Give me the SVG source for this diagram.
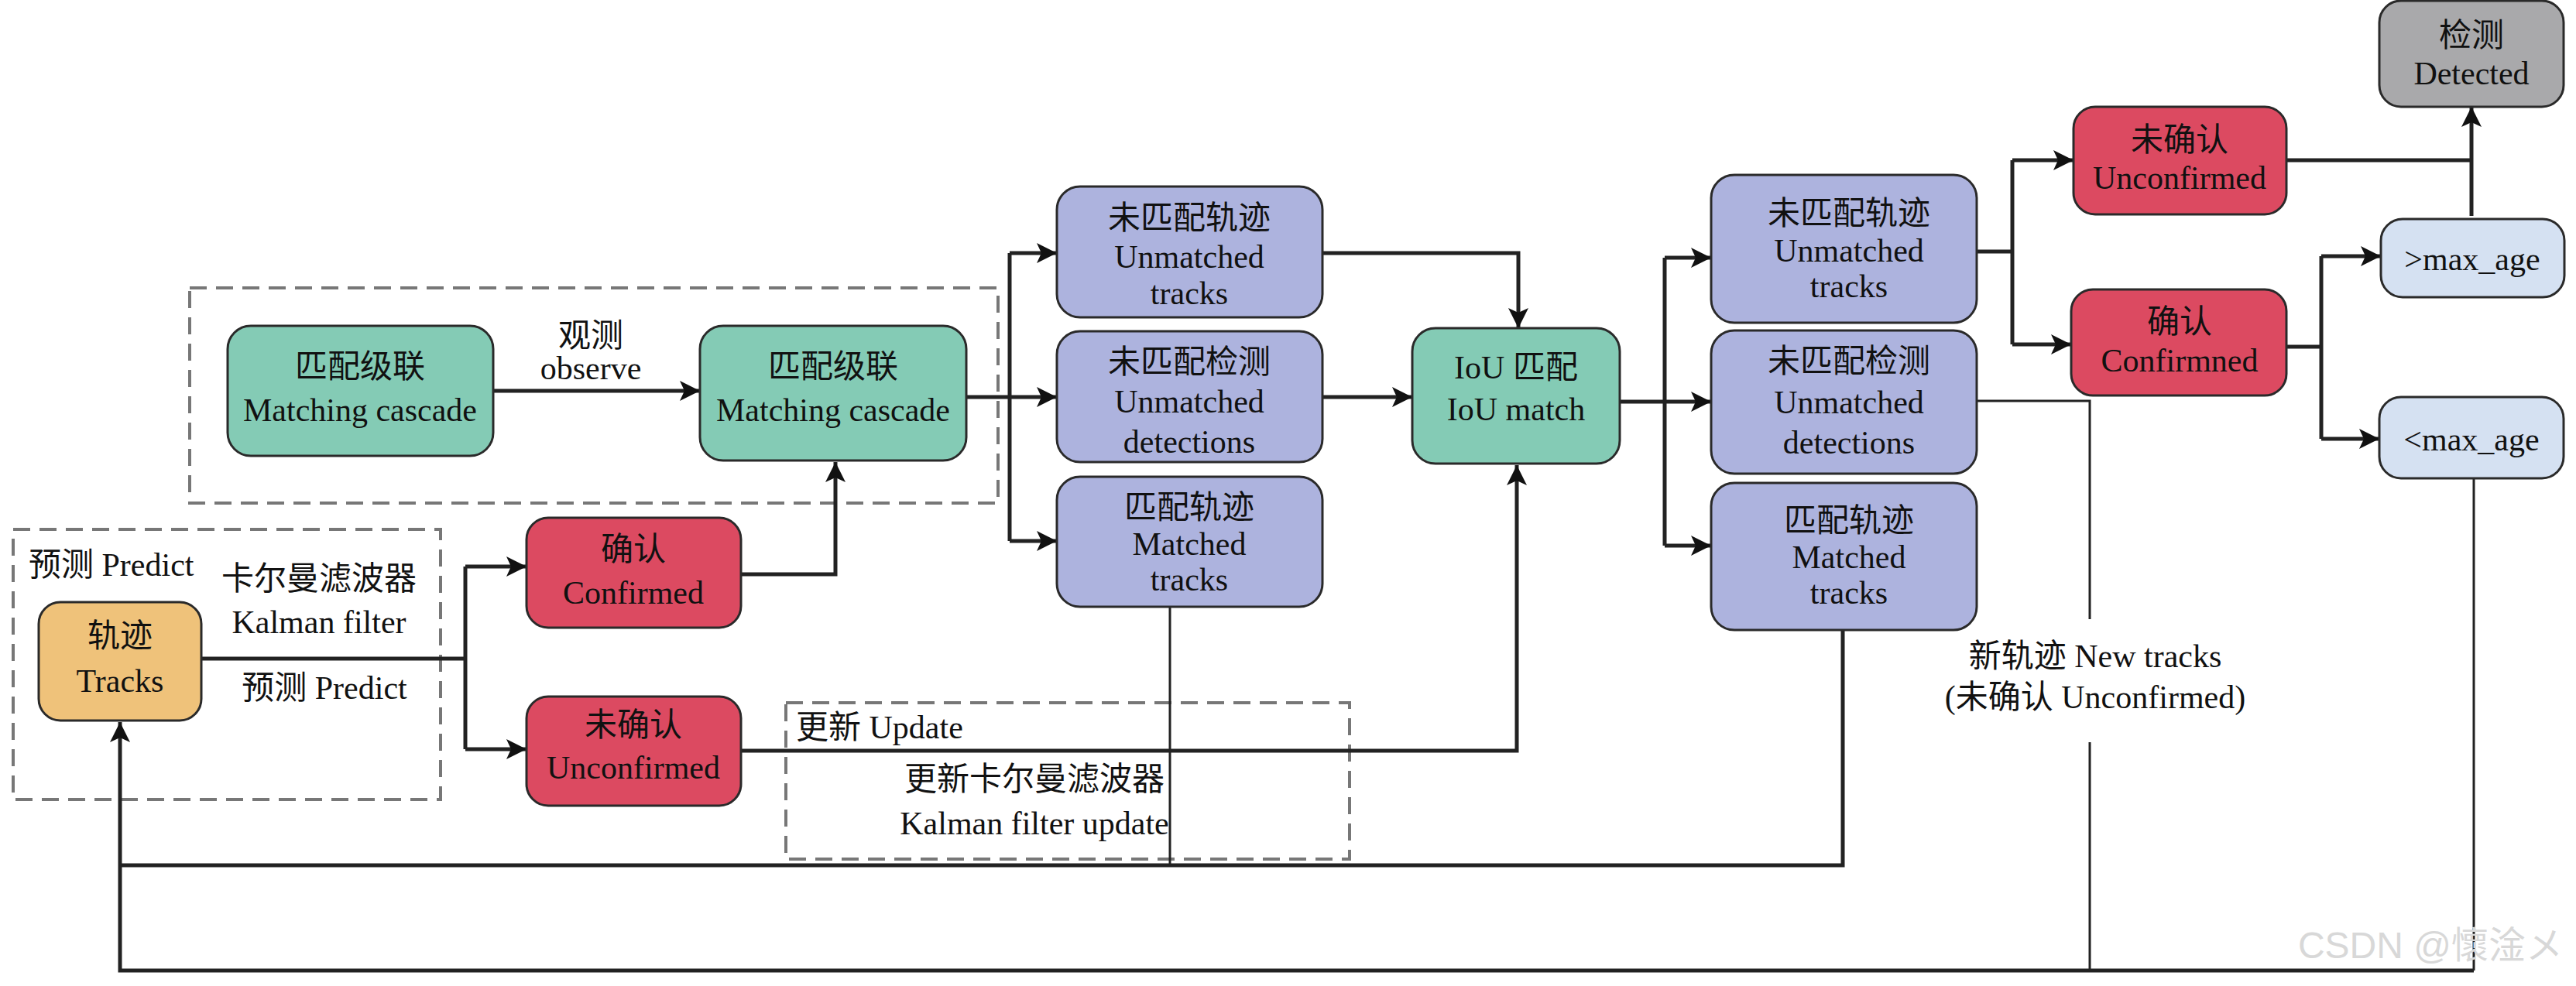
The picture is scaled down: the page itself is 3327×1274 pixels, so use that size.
<svg xmlns="http://www.w3.org/2000/svg" width="3327" height="1274" viewBox="0 0 3327 1274">
<style>
text{font-family:"Liberation Serif","Noto Sans CJK SC",serif;font-size:42px;fill:#111;text-anchor:middle}
.n{stroke:#2a2a2a;stroke-width:3}
.teal{fill:#84cbb5}.pur{fill:#adb3de}.red{fill:#dc4a61}.org{fill:#efc27a}.gry{fill:#a9a9ab}.lb{fill:#d5e1f2}
.dash{fill:none;stroke:#777;stroke-width:4;stroke-dasharray:22 12}
.c{fill:none;stroke:#222;stroke-width:5}
.t{fill:none;stroke:#222;stroke-width:3}
.l{text-anchor:start}
</style>
<defs>
<marker id="h" viewBox="0 0 26 26" refX="26" refY="13" markerWidth="26" markerHeight="26" markerUnits="userSpaceOnUse" orient="auto">
<path d="M0,0L26,13L0,26L6,13z" fill="#111"/>
</marker>
</defs>
<rect class="dash" x="245" y="372" width="1044" height="278"/>
<rect class="dash" x="17" y="684" width="552" height="349"/>
<rect class="dash" x="1015" y="908" width="728" height="202"/>
<g id="connectors">
<path class="c" d="M637,505H904" marker-end="url(#h)"/>
<path class="c" d="M260,851H601M601,732V968"/>
<path class="c" d="M601,732H680" marker-end="url(#h)"/>
<path class="c" d="M601,968H680" marker-end="url(#h)"/>
<path class="c" d="M957,742H1079V597" marker-end="url(#h)"/>
<path class="c" d="M957,970H1959V601" marker-end="url(#h)"/>
<path class="c" d="M1248,513H1304M1304,327V699"/>
<path class="c" d="M1304,327H1365" marker-end="url(#h)"/>
<path class="c" d="M1304,513H1365" marker-end="url(#h)"/>
<path class="c" d="M1304,699H1365" marker-end="url(#h)"/>
<path class="c" d="M1708,327H1961V424" marker-end="url(#h)"/>
<path class="c" d="M1708,513H1824" marker-end="url(#h)"/>
<path class="c" d="M2092,519H2150M2150,333V705"/>
<path class="c" d="M2150,333H2210" marker-end="url(#h)"/>
<path class="c" d="M2150,519H2210" marker-end="url(#h)"/>
<path class="c" d="M2150,705H2210" marker-end="url(#h)"/>
<path class="c" d="M2553,325H2599M2599,207V445"/>
<path class="c" d="M2599,207H2678" marker-end="url(#h)"/>
<path class="c" d="M2599,445H2675" marker-end="url(#h)"/>
<path class="c" d="M2953,207H3192"/>
<path class="c" d="M3192,279V138" marker-end="url(#h)"/>
<path class="c" d="M2953,448H2998M2998,331V567"/>
<path class="c" d="M2998,331H3075" marker-end="url(#h)"/>
<path class="c" d="M2998,567H3073" marker-end="url(#h)"/>
<path class="t" d="M1511,784V1118"/>
<path class="c" d="M2380,814V1118H155"/>
<path class="t" d="M2553,518H2699V800M2699,959V1254"/>
<path class="t" d="M3195,618V1254"/>
<path class="c" d="M3195,1254H155V933" marker-end="url(#h)"/>
</g>
<g id="cascade1"><rect class="n teal" x="294" y="421" width="343" height="168" rx="30"/><text x="465" y="488">匹配级联</text><text x="465" y="544">Matching cascade</text></g>
<g id="observe"><text x="763" y="448">观测</text><text x="763" y="490">observe</text></g>
<g id="cascade2"><rect class="n teal" x="904" y="421" width="344" height="174" rx="30"/><text x="1076" y="488">匹配级联</text><text x="1076" y="544">Matching cascade</text></g>
<g id="predict-labels"><text class="l" x="37" y="744">预测 Predict</text><text x="412" y="762">卡尔曼滤波器</text><text x="412" y="818">Kalman filter</text><text x="419" y="903">预测 Predict</text></g>
<g id="tracks"><rect class="n org" x="50" y="778" width="210" height="153" rx="28"/><text x="155" y="836">轨迹</text><text x="155" y="894">Tracks</text></g>
<g id="confirmed1"><rect class="n red" x="680" y="669" width="277" height="142" rx="28"/><text x="818" y="724">确认</text><text x="818" y="780">Confirmed</text></g>
<g id="unconfirmed1"><rect class="n red" x="680" y="900" width="277" height="141" rx="28"/><text x="818" y="951">未确认</text><text x="818" y="1006">Unconfirmed</text></g>
<g id="update-labels"><text class="l" x="1028" y="954">更新 Update</text><text x="1336" y="1021">更新卡尔曼滤波器</text><text x="1336" y="1078">Kalman filter update</text></g>
<g id="ut1"><rect class="n pur" x="1365" y="241" width="343" height="169" rx="30"/><text x="1536" y="296">未匹配轨迹</text><text x="1536" y="346">Unmatched</text><text x="1536" y="393">tracks</text></g>
<g id="ud1"><rect class="n pur" x="1365" y="428" width="343" height="169" rx="30"/><text x="1536" y="482">未匹配检测</text><text x="1536" y="533">Unmatched</text><text x="1536" y="585">detections</text></g>
<g id="mt1"><rect class="n pur" x="1365" y="616" width="343" height="168" rx="30"/><text x="1536" y="670">匹配轨迹</text><text x="1536" y="717">Matched</text><text x="1536" y="763">tracks</text></g>
<g id="iou"><rect class="n teal" x="1824" y="424" width="268" height="175" rx="30"/><text x="1958" y="489">IoU 匹配</text><text x="1958" y="543">IoU match</text></g>
<g id="ut2"><rect class="n pur" x="2210" y="226" width="343" height="191" rx="30"/><text x="2388" y="290">未匹配轨迹</text><text x="2388" y="338">Unmatched</text><text x="2388" y="384">tracks</text></g>
<g id="ud2"><rect class="n pur" x="2210" y="427" width="343" height="185" rx="30"/><text x="2388" y="481">未匹配检测</text><text x="2388" y="534">Unmatched</text><text x="2388" y="586">detections</text></g>
<g id="mt2"><rect class="n pur" x="2210" y="624" width="343" height="190" rx="30"/><text x="2388" y="687">匹配轨迹</text><text x="2388" y="734">Matched</text><text x="2388" y="780">tracks</text></g>
<g id="newtracks"><text x="2706" y="862">新轨迹 New tracks</text><text x="2706" y="915">(未确认 Unconfirmed)</text></g>
<g id="unconfirmed2"><rect class="n red" x="2678" y="138" width="275" height="139" rx="28"/><text x="2815" y="195">未确认</text><text x="2815" y="244">Unconfirmed</text></g>
<g id="confirmed2"><rect class="n red" x="2675" y="374" width="278" height="137" rx="28"/><text x="2815" y="430">确认</text><text x="2815" y="480">Confirmned</text></g>
<g id="detected"><rect class="n gry" x="3073" y="1" width="238" height="137" rx="28"/><text x="3192" y="60">检测</text><text x="3192" y="109">Detected</text></g>
<g id="gtmax"><rect class="n lb" x="3075" y="283" width="237" height="101" rx="28"/><text x="3193" y="349">&gt;max_age</text></g>
<g id="ltmax"><rect class="n lb" x="3073" y="513" width="238" height="105" rx="28"/><text x="3192" y="582">&lt;max_age</text></g>
<text x="3310" y="1238" style="font-family:'Liberation Sans','Noto Sans CJK SC',sans-serif;font-size:48px;fill:#d8d8d8;text-anchor:end">CSDN @懷淦メ</text>
</svg>
